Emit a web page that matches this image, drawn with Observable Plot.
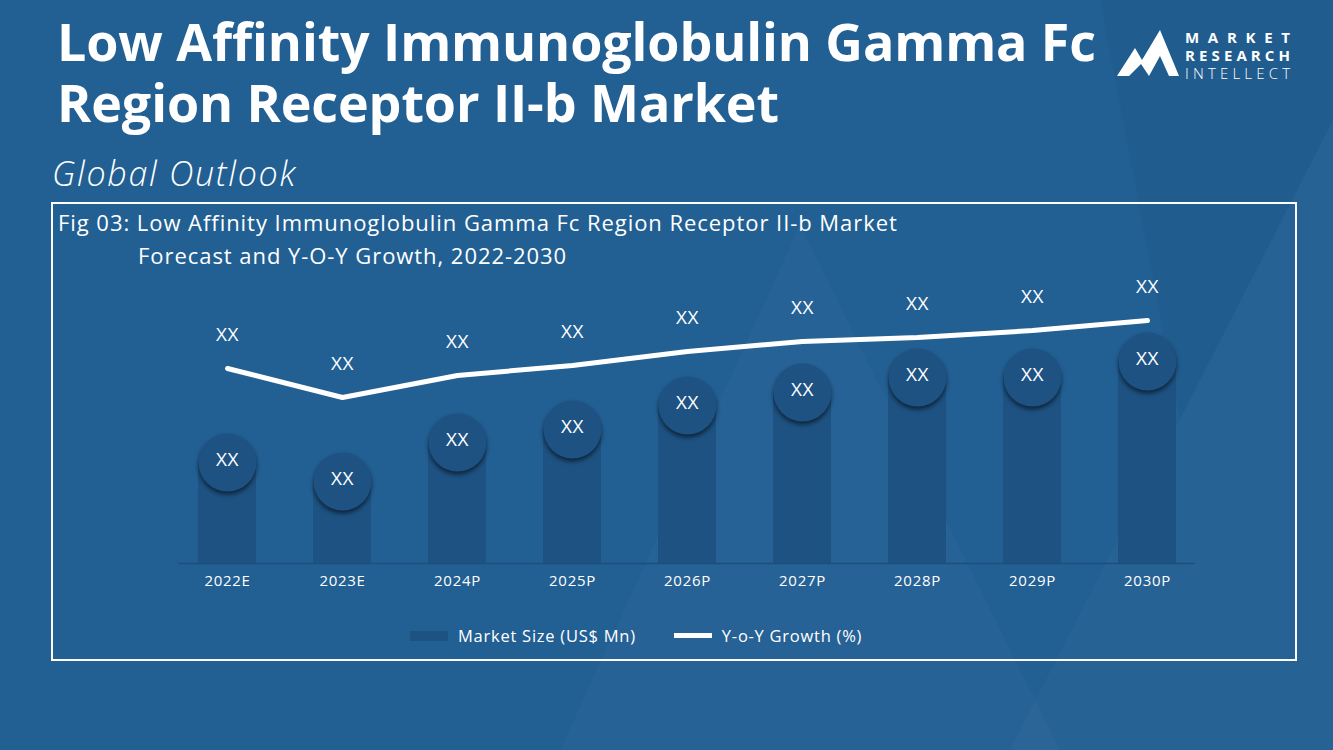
<!DOCTYPE html>
<html>
<head>
<meta charset="utf-8">
<script src="https://cdn.jsdelivr.net/npm/d3@7"></script>
<script src="https://cdn.jsdelivr.net/npm/@observablehq/plot@0.6"></script>
<style>
html,body{margin:0;padding:0;}
body{width:1333px;height:750px;overflow:hidden;background:#225f93;font-family:"Open Sans",sans-serif;position:relative;color:#fff;}
#bg{position:absolute;left:0;top:0;}
#title{position:absolute;left:57px;top:10px;margin:0;font-family:"Open Sans",sans-serif;font-weight:700;font-size:52px;line-height:61px;letter-spacing:-0.1px;white-space:nowrap;}
#sub{position:absolute;left:52px;top:150px;font-style:italic;font-weight:300;font-size:34px;letter-spacing:1.7px;}
#box{position:absolute;left:51px;top:202px;width:1242px;height:455px;border:2px solid #fff;}
#fig{position:absolute;left:58px;top:206px;font-size:22px;line-height:33px;letter-spacing:0.95px;white-space:nowrap;}
#chart{position:absolute;left:0;top:210px;}
#chart g[aria-label="x-axis tick label"] text{letter-spacing:0.7px;}
#chart g[aria-label="text"] text{letter-spacing:0.5px;}
#legend{position:absolute;left:410px;top:624px;font-size:16.5px;letter-spacing:0.75px;display:flex;align-items:center;white-space:nowrap;}
.sw{display:inline-block;width:38px;margin-right:10px;}
#logo{position:absolute;left:1115px;top:26px;}
</style>
</head>
<body>
<svg id="bg" width="1333" height="750">
  <polygon points="560,750 800,225 1060,750" fill="#ffffff" opacity="0.02"/>
  <polygon points="1010,750 1333,120 1333,750" fill="#ffffff" opacity="0.025"/>
  <polygon points="1333,0 1333,120 1180,420 1100,0" fill="#000000" opacity="0.03"/>
</svg>
<h1 id="title">Low Affinity Immunoglobulin Gamma Fc<br>Region Receptor II-b Market</h1>
<div id="sub">Global Outlook</div>
<div id="logo">
<svg width="185" height="60">
  <polygon points="2,50 20,22 27,34 45,4 64,50 54,50 45,30 34,50 26,38 14,50" fill="#fff"/>
  <text x="70" y="17" font-family="Open Sans" font-weight="700" font-size="15" textLength="105" lengthAdjust="spacing" fill="#fff">MARKET</text>
  <text x="70" y="35" font-family="Open Sans" font-weight="700" font-size="15" textLength="105" lengthAdjust="spacing" fill="#fff">RESEARCH</text>
  <text x="70" y="53" font-family="Open Sans" font-weight="300" font-size="15" textLength="105" lengthAdjust="spacing" fill="#fff">INTELLECT</text>
</svg>
</div>
<div id="box"></div>
<div id="fig">Fig 03: Low Affinity Immunoglobulin Gamma Fc Region Receptor II-b Market<br><span style="padding-left:80px">Forecast and Y-O-Y Growth, 2022-2030</span></div>
<div id="chart"></div>
<div id="legend">
  <span class="sw" style="height:10px;background:#1e5282;"></span><span>Market Size (US$ Mn)</span>
  <span class="sw" style="height:5px;background:#fff;margin-left:38px;"></span><span>Y-o-Y Growth (%)</span>
</div>
<script>
const years = ["2022E","2023E","2024P","2025P","2026P","2027P","2028P","2029P","2030P"];
const marketSize = [10.1, 8.2, 12.1, 13.4, 15.8, 17.1, 18.6, 18.6, 20.2];
const yoyGrowth = [19.5, 16.6, 18.8, 19.8, 21.2, 22.2, 22.6, 23.3, 24.3];
const barLabels = ["XX","XX","XX","XX","XX","XX","XX","XX","XX"];
const lineLabels = ["XX","XX","XX","XX","XX","XX","XX","XX","XX"];

const data = years.map((y, i) => ({year: y, size: marketSize[i], growth: yoyGrowth[i], bl: barLabels[i], ll: lineLabels[i]}));
const barColor = "#1e5282";

const chart = Plot.plot({
  width: 1333, height: 390,
  marginLeft: 178, marginRight: 138, marginTop: 60, marginBottom: 37,
  x: {domain: years, paddingInner: 0.5, paddingOuter: 0.165, label: null},
  y: {domain: [0, 29.3], axis: null},
  style: {background: "transparent", color: "#fff", fontFamily: "Open Sans", overflow: "visible"},
  marks: [
    Plot.barY(data, {x: "year", y: "size", fill: barColor}),
    Plot.ruleY([0], {stroke: "#1d4f7c", strokeWidth: 1.5}),
    Plot.dot(data, {x: "year", y: "size", r: 29, fill: barColor, stroke: "none"}),
    Plot.text(data, {x: "year", y: "size", text: "bl", fill: "#fff", fontSize: 19, dy: -3}),
    Plot.lineY(data, {x: "year", y: "growth", stroke: "#fff", strokeWidth: 5, curve: "linear"}),
    Plot.text(data, {x: "year", y: "growth", text: "ll", fill: "#fff", fontSize: 19, dy: -34}),
    Plot.axisX({tickSize: 0, tickPadding: 12, fontSize: 15, fill: "#fff", label: null})
  ]
});
document.getElementById("chart").appendChild(chart);
d3.select(chart).selectAll('g[aria-label="dot"]').style("filter", "drop-shadow(0px 3px 2px rgba(0,0,0,0.55))");
</script>
</body>
</html>
